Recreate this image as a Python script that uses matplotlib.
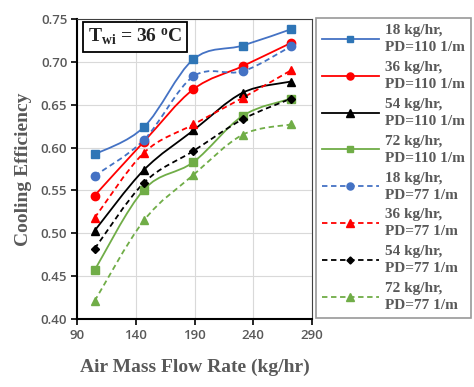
import numpy as np
import matplotlib
matplotlib.use("Agg")
import matplotlib.pyplot as plt
from matplotlib.path import Path
from matplotlib.patches import PathPatch
from matplotlib.lines import Line2D

# air mass flow rate (kg/hr)
air_flow = [105, 147, 189, 231, 272]

water_18_pd110 = [0.592, 0.624, 0.703, 0.719, 0.738]
water_36_pd110 = [0.544, 0.607, 0.668, 0.695, 0.722]
water_54_pd110 = [0.503, 0.574, 0.620, 0.664, 0.677]
water_72_pd110 = [0.457, 0.551, 0.583, 0.637, 0.657]
water_18_pd77 = [0.567, 0.609, 0.683, 0.689, 0.718]
water_36_pd77 = [0.518, 0.594, 0.627, 0.658, 0.690]
water_54_pd77 = [0.482, 0.559, 0.596, 0.633, 0.657]
water_72_pd77 = [0.421, 0.515, 0.568, 0.615, 0.627]

labels = [
    "18 kg/hr,\nPD=110 1/m", "36 kg/hr,\nPD=110 1/m",
    "54 kg/hr,\nPD=110 1/m", "72 kg/hr,\nPD=110 1/m",
    "18 kg/hr,\nPD=77 1/m", "36 kg/hr,\nPD=77 1/m",
    "54 kg/hr,\nPD=77 1/m", "72 kg/hr,\nPD=77 1/m",
]

BLUE = "#4472C4"
SQ_BLUE = "#2E75B6"
RED = "#FF0000"
BLACK = "#000000"
GREEN = "#70AD47"
GRAY = "#595959"

series = [
    (water_18_pd110, BLUE, SQ_BLUE, "s", "-", 5.5),
    (water_36_pd110, RED, RED, "o", "-", 6.0),
    (water_54_pd110, BLACK, BLACK, "^", "-", 6.0),
    (water_72_pd110, GREEN, GREEN, "s", "-", 5.5),
    (water_18_pd77, BLUE, BLUE, "o", "--", 6.0),
    (water_36_pd77, RED, RED, "^", "--", 6.0),
    (water_54_pd77, BLACK, BLACK, "D", "--", 4.2),
    (water_72_pd77, GREEN, GREEN, "^", "--", 6.0),
]


def smooth_path(xs, ys, tension=1 / 6):
    """Excel-like smoothed line: Catmull-Rom segments as cubic Beziers."""
    pts = np.column_stack([xs, ys]).astype(float)
    verts = [pts[0]]
    codes = [Path.MOVETO]
    n = len(pts)
    for i in range(n - 1):
        p0 = pts[max(i - 1, 0)]
        p1 = pts[i]
        p2 = pts[i + 1]
        p3 = pts[min(i + 2, n - 1)]
        c1 = p1 + (p2 - p0) * tension
        c2 = p2 - (p3 - p1) * tension
        verts += [c1, c2, p2]
        codes += [Path.CURVE4] * 3
    return Path(verts, codes)


plt.rcParams["mathtext.fontset"] = "custom"
plt.rcParams["mathtext.rm"] = "Liberation Serif:bold"
plt.rcParams["mathtext.bf"] = "Liberation Serif:bold"
plt.rcParams["mathtext.it"] = "Liberation Serif:bold"

fig = plt.figure(figsize=(4.74, 3.87), dpi=100)
ax = fig.add_axes([77 / 474, 68 / 387, 235 / 474, 300 / 387])

handles = []
for ys, lc, mc, mk, ls, ms in series:
    dashes = (3, 2) if ls == "--" else None
    patch = PathPatch(smooth_path(air_flow, ys), facecolor="none", edgecolor=lc,
                      lw=1.3, linestyle=(0, dashes) if dashes else "-", zorder=3)
    ax.add_patch(patch)
    ax.plot(air_flow, ys, linestyle="none", marker=mk, ms=ms, color=mc,
            markeredgecolor=mc, zorder=4)
    h = Line2D([], [], color=lc, lw=1.3, marker=mk, ms=ms * 0.85,
               markerfacecolor=mc, markeredgecolor=mc)
    if dashes:
        h.set_dashes(dashes)
    handles.append(h)

ax.set_xlim(90, 290)
ax.set_ylim(0.40, 0.75)
ax.set_xticks(np.arange(90, 291, 50))
ax.set_yticks(np.arange(0.40, 0.751, 0.05))
ax.yaxis.set_major_formatter(matplotlib.ticker.FormatStrFormatter("%.2f"))
ax.grid(True, color="#D9D9D9", lw=0.8, zorder=0)
ax.set_axisbelow(True)

for side in ["left", "bottom"]:
    ax.spines[side].set_color("black")
    ax.spines[side].set_linewidth(1.5)
for side in ["top", "right"]:
    ax.spines[side].set_color("#404040")
    ax.spines[side].set_linewidth(0.8)

ax.tick_params(direction="out", length=4, width=1.2, colors="black",
               labelcolor=GRAY, labelsize=9.5, pad=3)
for lab in ax.get_xticklabels() + ax.get_yticklabels():
    lab.set_fontfamily("Open Sans")
    lab.set_fontweight("semibold")

ax.set_xlabel("Air Mass Flow Rate (kg/hr)", fontfamily="Liberation Serif",
              fontweight="bold", fontsize=14, color=GRAY, labelpad=12)
ax.set_ylabel("Cooling Efficiency", fontfamily="Liberation Serif",
              fontweight="bold", fontsize=14, color=GRAY, labelpad=6)

ax.text(0.045, 0.975, r"$\mathbf{T_{wi}}$ = 36 $^{\mathbf{o}}$C",
        transform=ax.transAxes, fontfamily="Liberation Serif", fontweight="bold",
        fontsize=14, color="#222222", ha="left", va="top",
        bbox=dict(boxstyle="square,pad=0.25", facecolor="white",
                  edgecolor="black", lw=1.3))

leg = fig.legend(handles, labels, loc="upper left",
                 bbox_to_anchor=(316 / 474, 1 - 18 / 387),
                 prop={"family": "Liberation Serif", "weight": "bold", "size": 11},
                 labelcolor=GRAY, frameon=True, fancybox=False,
                 edgecolor="#7F7F7F", handlelength=3.7, handletextpad=0.4,
                 labelspacing=0.45, borderpad=0.4, borderaxespad=0)
leg.get_frame().set_linewidth(1.2)
for t in leg.get_texts():
    t.set_linespacing(1.4)

fig.savefig("out.png", dpi=100)
